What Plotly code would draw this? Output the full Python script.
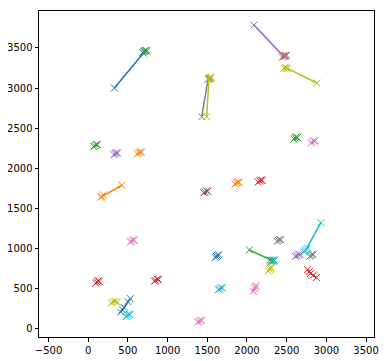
import plotly.graph_objects as go

# Tracks per colour; None separates separate tracks of the same colour
blue_x = [330, 690, 705, 720, None, 1600, 1615, 1630, 1645, None, 410, 430, 450, 500, 530]
blue_y = [3000, 3440, 3455, 3465, None, 890, 905, 915, 925, None, 210, 240, 270, 340, 378]

orange_x = [2440, 2460, 2480, 2500, None, 620, 640, 655, 670, None, 424, 190, 170, 160, None, 1850, 1870, 1885, 1900]
orange_y = [3385, 3405, 3395, 3410, None, 2180, 2195, 2205, 2200, None, 1790, 1670, 1650, 1640, None, 1805, 1820, 1830, 1825]

green_x = [690, 705, 720, 740, None, 70, 85, 100, 115, None, 2590, 2605, 2620, 2635, None, 2030, 2290, 2310, 2330]
green_y = [3440, 3460, 3470, 3465, None, 2270, 2285, 2300, 2295, None, 2365, 2380, 2390, 2385, None, 985, 860, 850, 845]

red_x = [2140, 2160, 2175, 2190, None, 95, 110, 125, 140, None, 835, 850, 870, 885, None, 2765, 2785, 2800, 2835, 2875]
red_y = [1830, 1845, 1855, 1850, None, 570, 585, 600, 595, None, 595, 605, 620, 615, None, 740, 715, 690, 670, 640]

purple_x = [2088, 2460, 2475, 2490, None, 325, 340, 355, 370, None, 2610, 2630, 2650, 2670]
purple_y = [3786, 3395, 3400, 3405, None, 2170, 2185, 2195, 2190, None, 905, 915, 930, 925]

brown_x = [1455, 1470, 1490, 1505]
brown_y = [1695, 1705, 1720, 1715]

pink_x = [2805, 2820, 2840, 2855, None, 530, 545, 565, 580, None, 2080, 2095, 2105, 2115, None, 1380, 1395, 1415, 1430]
pink_y = [2315, 2330, 2345, 2340, None, 1085, 1095, 1110, 1105, None, 470, 500, 525, 540, None, 85, 95, 110, 105]

gray_x = [2380, 2395, 2410, 2425, None, 2790, 2805, 2820, 2835, None, 1430, 1510, 1525, 1540]
gray_y = [1090, 1105, 1115, 1110, None, 905, 915, 930, 925, None, 2644, 3110, 3120, 3125]

olive_x = [2880, 2510, 2495, 2480, 2470, None, 1493, 1520, 1535, 1550, None, 290, 315, 340, 365, None, 2270, 2285, 2295, 2305]
olive_y = [3063, 3240, 3250, 3260, 3245, None, 2644, 3115, 3130, 3135, None, 325, 340, 345, 335, None, 720, 740, 755, 770]

cyan_x = [2300, 2315, 2330, 2345, None, 2931, 2760, 2745, 2730, 2720, None, 1640, 1655, 1675, 1690, None, 480, 495, 510, 525]
cyan_y = [835, 850, 860, 855, None, 1324, 1010, 990, 975, 960, None, 490, 500, 515, 510, None, 155, 170, 185, 180]

series = [
    (blue_x, blue_y, "#1f77b4"),
    (orange_x, orange_y, "#ff7f0e"),
    (green_x, green_y, "#2ca02c"),
    (red_x, red_y, "#d62728"),
    (purple_x, purple_y, "#9467bd"),
    (brown_x, brown_y, "#8c564b"),
    (pink_x, pink_y, "#e377c2"),
    (gray_x, gray_y, "#7f7f7f"),
    (olive_x, olive_y, "#bcbd22"),
    (cyan_x, cyan_y, "#17becf"),
]

fig = go.Figure()
for xs, ys, c in series:
    fig.add_trace(go.Scatter(
        x=xs, y=ys, mode="lines+markers", connectgaps=False,
        line=dict(color=c, width=1.5),
        marker=dict(symbol="x-thin", size=7, color=c, line=dict(width=1, color=c)),
        showlegend=False, cliponaxis=False,
    ))

axis_common = dict(
    showgrid=False, zeroline=False, showline=True, linecolor="black", linewidth=1,
    mirror=True, ticks="outside", ticklen=3.5, tickcolor="black", dtick=500,
    automargin=False,
    tickfont=dict(family="DejaVu Sans", size=10, color="black"),
)
fig.update_xaxes(range=[-620, 3600], tick0=-500, **axis_common)
fig.update_yaxes(range=[-100, 3960], tick0=0, **axis_common)
# the page body has a default 8px margin, so the figure is sized to fit inside it
fig.update_layout(
    width=380, height=353,
    margin=dict(l=31, r=14, t=3, b=24),
    paper_bgcolor="white", plot_bgcolor="white",
)
fig.write_html("out.html")
